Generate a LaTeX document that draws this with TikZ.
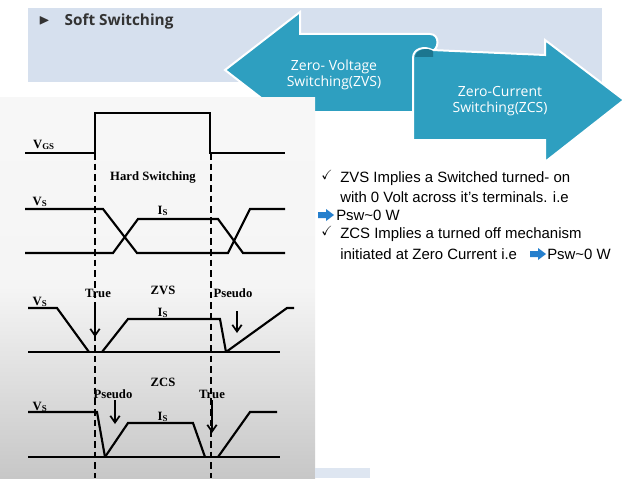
\documentclass[tikz,border=0pt]{standalone}
\usepackage{amssymb}
\usepackage{fontspec}
\setmainfont{Liberation Serif}
\newfontfamily\arialf{Liberation Sans}
\newfontfamily\opensans{Open Sans}
\usetikzlibrary{arrows.meta}
\definecolor{banner}{HTML}{D6E0EE}
\definecolor{teal}{HTML}{2E9FC0}
\definecolor{tealdk}{HTML}{1C7690}
\begin{document}
\begin{tikzpicture}[x=0.75pt,y=-0.75pt,
  wave/.style={line width=1.6pt,line join=miter},
  dashln/.style={line width=0.8pt,dash pattern=on 5pt off 3pt},
  lbl/.style={font=\bfseries\fontsize{9.5}{10}\selectfont,inner sep=0pt},
  dn/.style={line width=1.3pt,-{Straight Barb[length=5pt,width=7pt]}},
  txt/.style={font=\arialf\fontsize{11.2}{13}\selectfont,anchor=west,inner sep=0pt},
  chk/.style={font=\fontsize{10}{10}\selectfont,anchor=west,inner sep=0pt},
  ico/.style={fill=teal!80!blue,draw=none}]
\useasboundingbox (0,0) rectangle (638,478);
\fill[white] (0,0) rectangle (638,478);
% banner
\fill[banner] (28,8) rectangle (602,82);
\node[anchor=west,font=\fontsize{11}{12}\selectfont,text=black!80] (tri) at (34,21) {$\blacktriangleright$};
\node[anchor=west,font=\opensans\bfseries\fontsize{11.5}{13}\selectfont,text=black!80] (ss) at (60,21) {Soft Switching};
% arrows
\fill[teal,draw=white,line width=1.5pt] (225,70) -- (300,12) -- (300,34) -- (430,34)
  .. controls (440,34) and (440,50) .. (430,52) -- (430,112) -- (300,112) -- (300,128) -- cycle;
\fill[teal,draw=white,line width=1.5pt] (413,58) .. controls (413,48) and (425,46) .. (432,50) -- (545,55) -- (545,40) -- (624,100) -- (545,162) -- (545,140) -- (413,140) -- cycle;
\fill[tealdk] (415,57) .. controls (416,49) and (428,47) .. (433,51) -- (433,57) -- cycle;
\node[align=center,text=white,font=\opensans\fontsize{10.5}{12.5}\selectfont] (zvs) at (334,75) {Zero- Voltage\\Switching(ZVS)};
\node[align=center,text=white,font=\opensans\fontsize{10.5}{12.5}\selectfont] (zcs) at (500,101) {Zero-Current\\Switching(ZCS)};
% diagram panel
\shade[top color=white!97!black,bottom color=black!22,middle color=white!96!black,shading angle=0] (0,97) rectangle (315,478);
\fill[banner!80] (315,468) rectangle (370,478);
% VGS
\draw[wave] (25,153) -- (95,153) -- (95,113) -- (210,113) -- (210,153) -- (285,153);
\node[lbl] (vgs) at (44,145) {V\textsubscript{GS}};
\draw[dashln] (95,153) -- (95,478);
\draw[dashln] (211,153) -- (211,478);
\node[lbl] (hs) at (153,178) {Hard Switching};
% hard switching
\draw[wave] (25,209) -- (103,209) -- (137,253) -- (228,253) -- (250,209) -- (285,209);
\draw[wave] (25,253) -- (113,253) -- (138,219) -- (218,219) -- (243,253) -- (285,253);
\node[lbl] (vs1) at (40,202) {V\textsubscript{S}};
\node[lbl] (is1) at (163,211) {I\textsubscript{S}};
% ZVS
\draw[wave] (28,352) -- (280,352);
\draw[wave] (28,308) -- (57,308) -- (89,352);
\draw[wave] (102,352) -- (128,319) -- (220,319) -- (226,352);
\draw[wave] (226,352) -- (287,308) -- (294,308);
\node[lbl] (vs2) at (40,302) {V\textsubscript{S}};
\node[lbl] (is2) at (163,313) {I\textsubscript{S}};
\node[lbl] (true1) at (98,293) {True};
\node[lbl] (zvsl) at (163,290) {ZVS};
\node[lbl] (ps1) at (233,293) {Pseudo};
\coordinate (a1) at (95,337); \coordinate (a2) at (237,333);
\draw[dn] (95,302) -- (a1);
\draw[dn] (237,311) -- (a2);
% ZCS
\draw[wave] (28,457) -- (280,457);
\draw[wave] (28,412) -- (97,412) -- (105,457);
\draw[wave] (105,457) -- (128,423) -- (193,423) -- (205,457);
\draw[wave] (218,457) -- (250,412) -- (277,412);
\node[lbl] (vs3) at (40,407) {V\textsubscript{S}};
\node[lbl] (is3) at (163,417) {I\textsubscript{S}};
\node[lbl] (zcsl) at (163,382) {ZCS};
\node[lbl] (ps2) at (113,394) {Pseudo};
\node[lbl] (true2) at (212,394) {True};
\coordinate (a3) at (115,424); \coordinate (a4) at (212,433);
\draw[dn] (115,400) -- (a3);
\draw[dn] (212,400) -- (a4);
% right text
\node[chk] (c1) at (321,175) {\checkmark};
\node[txt] (t1) at (340,179) {ZVS Implies a Switched turned- on};
\node[txt] (t2) at (340,197) {with 0 Volt across it’s terminals. i.e};
\fill[ico] (318,212) rectangle (326,218) (326,209) -- (334,215) -- (326,221) -- cycle;
\node[txt] (t3) at (336,215) {Psw\textasciitilde0 W};
\node[chk] (c2) at (321,231) {\checkmark};
\node[txt] (t4) at (340,235) {ZCS Implies a turned off mechanism};
\node[txt] (t5) at (340,254) {initiated at Zero Current i.e};
\fill[ico] (530,251) rectangle (538,257) (538,248) -- (546,254) -- (538,260) -- cycle;
\node[txt] (t6) at (547,254) {Psw\textasciitilde0 W};
\end{tikzpicture}
\end{document}
